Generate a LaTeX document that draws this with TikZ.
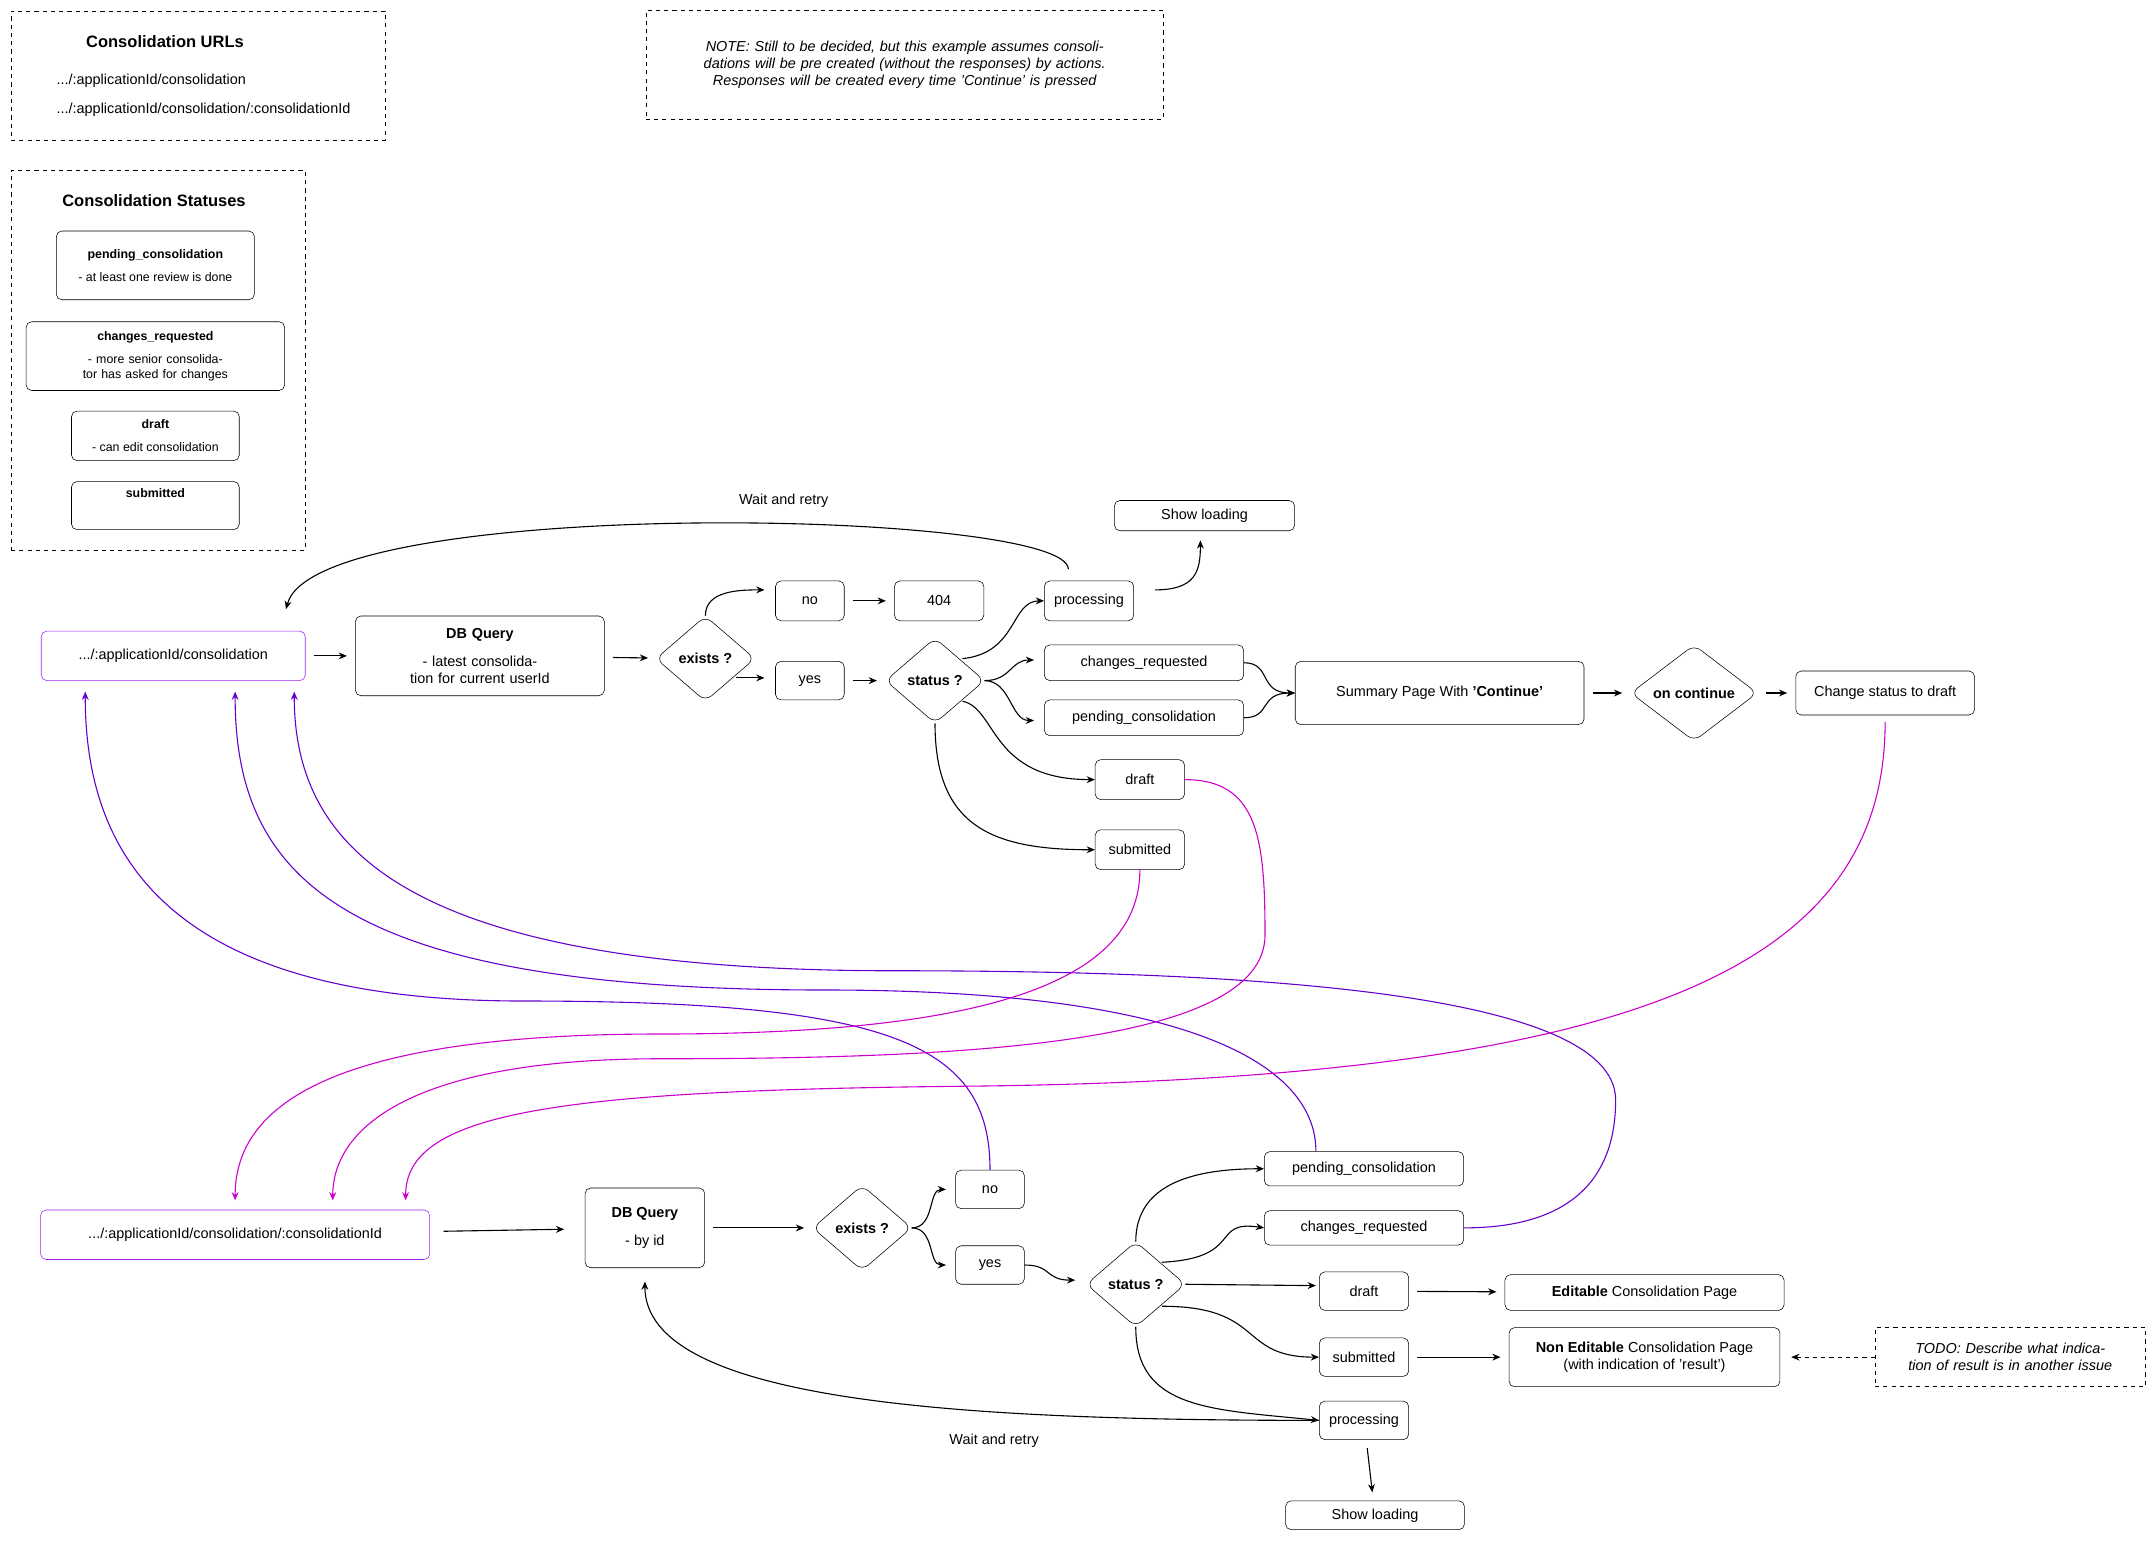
\documentclass[tikz,border=0pt]{standalone}
\usepackage{fontspec}
\setmainfont{Liberation Sans}
\usetikzlibrary{shapes.geometric,arrows.meta}
\definecolor{vio}{RGB}{102,0,204}
\definecolor{mag}{RGB}{204,0,204}
\definecolor{urlb}{RGB}{160,32,240}
\begin{document}
\begin{tikzpicture}[x=1pt,y=-1pt,
  every node/.style={font=\fontsize{10.5}{12.5}\selectfont},
  box/.style={draw,rounded corners=4pt,align=center,inner sep=2pt},
  dbox/.style={draw,dashed,align=center},
  dia/.style={draw,diamond,rounded corners=6pt,inner sep=0pt,minimum width=72pt,minimum height=62pt,font=\fontsize{10.5}{12.5}\selectfont\bfseries},
  arr/.style={-{Stealth[length=6pt,width=5pt]},line width=0.8pt},
  sh/.style={shorten >=6pt,shorten <=6pt},
  vl/.style={arr,draw=vio},
  ml/.style={arr,draw=mag}]
\useasboundingbox (0,0) rectangle (1568,1121);
% legend boxes
\node[dbox,minimum width=272,minimum height=94] (urls) at (144,55) {};
\node[font=\fontsize{12}{14}\selectfont\bfseries] (urlt) at (120,30) {Consolidation URLs};
\node (u1) at (110,59) {.../:applicationId/consolidation};
\node (u2) at (148,80) {.../:applicationId/consolidation/:consolidationId};
\node[dbox,minimum width=376,minimum height=79,text width=370,font=\fontsize{10.5}{12.5}\selectfont\itshape] (note) at (658,47) {NOTE: Still to be decided, but this example assumes consolidations will be pre created (without the responses) by actions. Responses will be created every time 'Continue' is pressed};
\node[dbox,minimum width=214,minimum height=276] (stat) at (115,262) {};
\node[font=\fontsize{12}{14}\selectfont\bfseries] (statt) at (112,146) {Consolidation Statuses};
\node[box,minimum width=144,minimum height=50,font=\fontsize{9}{11}\selectfont] (l1) at (113,193) {\textbf{pending\_consolidation}\\[6pt]- at least one review is done};
\node[box,minimum width=188,minimum height=50,text width=184,font=\fontsize{9}{11}\selectfont] (l2) at (113,259) {\textbf{changes\_requested}\\[6pt]- more senior consolidator has asked for changes};
\node[box,minimum width=122,minimum height=36,font=\fontsize{9}{11}\selectfont] (l3) at (113,317) {\textbf{draft}\\[6pt]- can edit consolidation};
\node[box,minimum width=122,minimum height=35,font=\fontsize{9}{11}\selectfont,anchor=north,text depth=18pt] (l4) at (113,350) {\textbf{submitted}};
% top flow
\node[box,draw=urlb,minimum width=192,minimum height=36] (url1) at (126,477) {.../:applicationId/consolidation};
\node[box,minimum width=181,minimum height=58,text width=177] (db1) at (349,477) {\textbf{DB Query}\\[8pt]- latest consolidation for current userId};
\node[dia] (ex1) at (513,479) {exists ?};
\node[box,minimum width=50,minimum height=29] (no1) at (589,437) {no};
\node[box,minimum width=65,minimum height=29] (nf) at (683,437) {404};
\node[box,minimum width=50,minimum height=28] (yes1) at (589,495) {yes};
\node[dia] (st1) at (680,495) {status ?};
\node[box,minimum width=65,minimum height=29] (pr1) at (792,437) {processing};
\node[box,minimum width=131,minimum height=22] (sl1) at (876,375) {Show loading};
\node[box,minimum width=145,minimum height=26] (cr1) at (832,482) {changes\_requested};
\node[box,minimum width=145,minimum height=26] (pc1) at (832,522) {pending\_consolidation};
\node[box,minimum width=210,minimum height=46] (sum) at (1047,504) {Summary Page With \textbf{'Continue'}};
\node[dia,minimum width=92,minimum height=70] (oc) at (1232,504) {on continue};
\node[box,minimum width=130,minimum height=32] (csd) at (1371,504) {Change status to draft};
\node[box,minimum width=65,minimum height=29] (dr1) at (829,567) {draft};
\node[box,minimum width=65,minimum height=29] (su1) at (829,618) {submitted};
\node (wr1) at (570,364) {Wait and retry};
\coordinate (c1) at (208,443);
\coordinate (c2) at (873,393);
\draw[arr,sh] (url1) -- (db1);
\draw[arr,sh] (db1) -- (ex1);
\draw[arr] (ex1.north) to[out=90,in=180] (556,429);
\draw[arr] (535,493) -- (556,493);
\draw[arr,sh] (no1) -- (nf);
\draw[arr,sh] (yes1) -- (st1);
\draw[arr] (777,414) .. controls (777,370) and (230,360) .. (c1);
\draw[arr] (840,429) .. controls (870,429) and (873,415) .. (c2);
\draw[arr] (700,479) .. controls (740,475) and (735,437) .. (pr1.west);
\draw[arr] (716,495) .. controls (735,495) and (735,480) .. (752,480);
\draw[arr] (716,495) .. controls (735,495) and (735,524) .. (752,524);
\draw[arr] (700,510) .. controls (725,515) and (720,567) .. (dr1.west);
\draw[arr] (680,526) .. controls (680,600) and (720,618) .. (su1.west);
\draw[arr] (cr1.east) .. controls (925,482) and (915,504) .. (sum.west);
\draw[arr] (pc1.east) .. controls (925,522) and (915,504) .. (sum.west);
\draw[arr,sh] (sum) -- (oc);
\draw[arr,sh] (oc) -- (csd);
% bottom flow
\node[box,draw=urlb,minimum width=283,minimum height=36] (url2) at (171,898) {.../:applicationId/consolidation/:consolidationId};
\node[box,minimum width=87,minimum height=58] (db2) at (469,893) {\textbf{DB Query}\\[8pt]- by id};
\node[dia] (ex2) at (627,893) {exists ?};
\node[box,minimum width=50,minimum height=28] (no2) at (720,865) {no};
\node[box,minimum width=50,minimum height=28] (yes2) at (720,920) {yes};
\node[dia] (st2) at (826,934) {status ?};
\node[box,minimum width=145,minimum height=25] (pc2) at (992,850) {pending\_consolidation};
\node[box,minimum width=145,minimum height=25] (cr2) at (992,893) {changes\_requested};
\node[box,minimum width=65,minimum height=28] (dr2) at (992,939) {draft};
\node[box,minimum width=65,minimum height=28] (su2) at (992,987) {submitted};
\node[box,minimum width=65,minimum height=28] (pr2) at (992,1033) {processing};
\node[box,minimum width=130,minimum height=21] (sl2) at (1000,1102) {Show loading};
\node[box,minimum width=203,minimum height=26] (ed) at (1196,940) {\textbf{Editable} Consolidation Page};
\node[box,minimum width=197,minimum height=43] (ned) at (1196,987) {\textbf{Non Editable} Consolidation Page\\(with indication of 'result')};
\node[dbox,minimum width=196,minimum height=43,text width=190,font=\fontsize{10.5}{12.5}\selectfont\itshape] (todo) at (1462,987) {TODO: Describe what indication of result is in another issue};
\node (wr2) at (723,1048) {Wait and retry};
\draw[arr,shorten >=15pt,shorten <=10pt] (url2) -- (db2);
\draw[arr,sh] (db2) -- (ex2);
\draw[arr] (663,893) .. controls (680,893) and (675,865) .. (688,865);
\draw[arr] (663,893) .. controls (680,893) and (675,920) .. (688,920);
\draw[arr] (yes2.east) .. controls (765,920) and (760,931) .. (782,931);
\draw[arr] (826,903) .. controls (826,860) and (870,850) .. (pc2.west);
\draw[arr] (845,918) .. controls (905,915) and (880,887) .. (cr2.west);
\draw[arr] (862,934) -- (957,935);
\draw[arr] (845,950) .. controls (920,950) and (900,987) .. (su2.west);
\draw[arr] (826,965) .. controls (826,1025) and (880,1025) .. (pr2.west);
\draw[arr,sh] (pr2) -- (sl2);
\draw[arr,sh] (dr2) -- (ed);
\draw[arr,sh] (su2) -- (ned);
\draw[arr,dashed,shorten >=8pt] (todo) -- (ned);
\draw[arr] (pr2.west) .. controls (700,1033) and (469,1020) .. (469,932);
% long curves
\coordinate (t1) at (62,503); \coordinate (t2) at (171,503); \coordinate (t3) at (214,503);
\coordinate (b1) at (171,873); \coordinate (b2) at (242,873); \coordinate (b3) at (295,873);
\draw[vl] (no2.north) .. controls (720,760) and (650,728) .. (380,728) .. controls (120,728) and (62,620) .. (t1);
\draw[vl] (957,837) .. controls (957,780) and (880,720) .. (600,720) .. controls (250,720) and (171,640) .. (t2);
\draw[vl] (cr2.east) .. controls (1150,893) and (1175,850) .. (1175,800) .. controls (1175,720) and (900,706) .. (650,706) .. controls (300,706) and (214,620) .. (t3);
\draw[ml] (su1.south) .. controls (829,720) and (700,752) .. (480,752) .. controls (250,752) and (171,800) .. (b1);
\draw[ml] (dr1.east) .. controls (915,567) and (920,610) .. (920,680) .. controls (920,760) and (700,770) .. (480,770) .. controls (300,770) and (242,820) .. (b2);
\draw[ml] (1371,525) .. controls (1371,700) and (1200,785) .. (700,790) .. controls (400,793) and (295,810) .. (b3);
\end{tikzpicture}
\end{document}
